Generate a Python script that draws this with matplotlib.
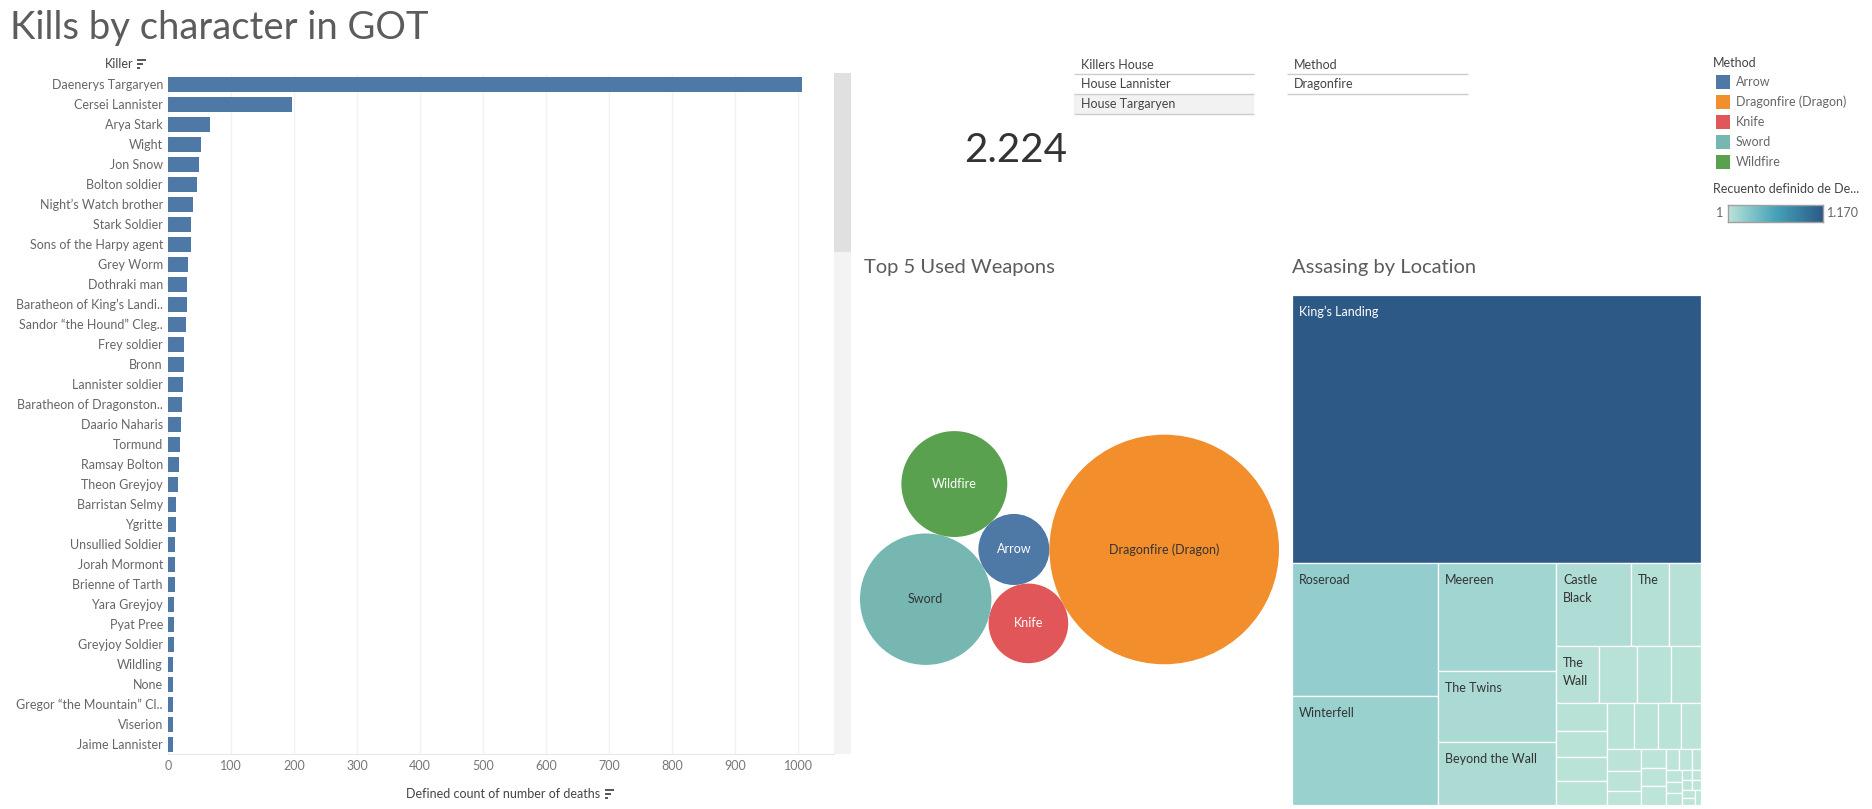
import numpy as np
import matplotlib
matplotlib.use('Agg')
import matplotlib.pyplot as plt
from matplotlib.patches import Rectangle, Circle
from matplotlib.lines import Line2D
from matplotlib.colors import LinearSegmentedColormap, Normalize, to_rgb

plt.rcParams['font.family'] = ['Lato', 'DejaVu Sans']

# ---------------- data ----------------
killers = ["Daenerys Targaryen", "Cersei Lannister", "Arya Stark", "Wight", "Jon Snow",
           "Bolton soldier", "Night’s Watch brother", "Stark Soldier", "Sons of the Harpy agent",
           "Grey Worm", "Dothraki man", "Baratheon of King’s Landi..", "Sandor “the Hound” Cleg..",
           "Frey soldier", "Bronn", "Lannister soldier", "Baratheon of Dragonston..",
           "Daario Naharis", "Tormund", "Ramsay Bolton", "Theon Greyjoy", "Barristan Selmy",
           "Ygritte", "Unsullied Soldier", "Jorah Mormont", "Brienne of Tarth", "Yara Greyjoy",
           "Pyat Pree", "Greyjoy Soldier", "Wildling", "None", "Gregor “the Mountain” Cl..",
           "Viserion", "Jaime Lannister"]
kills = [1006, 197, 67, 52, 49, 46, 40, 37, 37, 32, 30, 30, 29, 25, 25, 24, 22, 21, 19, 17,
         16, 13, 13, 11, 11, 11, 10, 10, 10, 8, 8, 8, 8, 8]
x_ticks = [0, 100, 200, 300, 400, 500, 600, 700, 800, 900, 1000]

weapons = ["Arrow", "Dragonfire (Dragon)", "Knife", "Sword", "Wildfire"]
weapon_kills = [90, 940, 113, 308, 200]
weapon_colors = ["#4e79a7", "#f28e2b", "#e15759", "#76b7b2", "#59a14f"]

locations = ["King’s Landing", "Roseroad", "Winterfell", "Meereen", "The Twins",
             "Beyond the Wall", "Castle Black", "The Narrow Sea", "Hardhome", "The Wall",
             "Dragonstone", "Riverrun", "Harrenhal", "Eastwatch", "Highgarden",
             "Craster’s Keep", "Castamere", "Qarth", "Yunkai", "Braavos", "Pyke",
             "Oldtown", "Dorne", "Lhazar", "Storm’s End", "Sunspear", "Vaes Dothrak",
             "The Eyrie", "Astapor", "Dreadfort", "Riverlands", "Deepwood Motte",
             "Dothraki Sea", "Moat Cailin", "Crownlands", "Stormlands", "Red Waste",
             "Shivering Sea", "Summer Sea", "Kingsroad"]
location_deaths = [1170, 206, 170, 136, 89, 80, 66, 34, 28, 26, 23, 21, 18, 15, 14, 13, 13,
                   13, 12, 11, 10, 8, 7, 5, 5, 5, 5, 3, 3, 2, 2, 2, 2, 1, 1, 1, 1, 1, 1, 1]
row_counts = [1, 2, 3, 3, 4, 4, 4, 3, 3, 3]

killers_house_items = ["House Lannister", "House Targaryen"]
method_filter_items = ["Dragonfire"]


def fmt(n):
    return f"{n:,}".replace(",", ".")


# ---------------- helpers ----------------
W, H = 1872, 809
fig = plt.figure(figsize=(W / 100, H / 100), dpi=100)
fig.patch.set_facecolor("white")
renderer = fig.canvas.get_renderer()


def fx(x):
    return x / W


def fy(y):
    return 1 - y / H


def px_axes(x0, y0, x1, y1):
    return fig.add_axes([x0 / W, 1 - y1 / H, (x1 - x0) / W, (y1 - y0) / H])


def ftext(x, y, s, **kw):
    return fig.text(fx(x), fy(y), s, **kw)


def frect(x0, y0, x1, y1, color):
    fig.add_artist(Rectangle((fx(x0), fy(y1)), (x1 - x0) / W, (y1 - y0) / H,
                             transform=fig.transFigure, facecolor=color, edgecolor="none"))


def fline(x0, y0, x1, y1, color, lw=1.0):
    fig.add_artist(Line2D([fx(x0), fx(x1)], [fy(y0), fy(y1)], transform=fig.transFigure,
                          color=color, lw=lw, solid_capstyle="butt"))


def text_w(s, fs):
    t = fig.text(0, 0, s, fontsize=fs)
    w = t.get_window_extent(renderer=renderer).width
    t.remove()
    return w


def sort_icon(x, y):
    for i, ln in enumerate([9, 6, 3]):
        fline(x, y - 4 + 4 * i, x + ln, y - 4 + 4 * i, "#555555", lw=1.4)


def lum(c):
    def f(u):
        return u / 12.92 if u <= 0.04045 else ((u + 0.055) / 1.055) ** 2.4
    r, g, b = to_rgb(c)
    return 0.2126 * f(r) + 0.7152 * f(g) + 0.0722 * f(b)


def label_color(c):
    return "white" if lum(c) < 0.33 else "#333333"


# ---------------- title ----------------
ftext(10, 28, "Kills by character in GOT", fontsize=27.5, color="#5c5c5c", va="center")

# ---------------- bar chart ----------------
ax = px_axes(168, 74, 834, 754)
yy = np.arange(len(killers))
ax.barh(yy, kills, height=0.75, color="#4e79a7", zorder=2)
ax.set_ylim(len(killers) - 0.5, -0.5)
ax.set_xlim(0, 1057)
ax.set_xticks(x_ticks)
ax.set_xticklabels([str(t) for t in x_ticks])
ax.set_yticks(yy)
ax.set_yticklabels(killers)
ax.tick_params(axis="y", length=0, pad=3.6, labelsize=9, labelcolor="#666666")
ax.tick_params(axis="x", length=0, pad=4, labelsize=9, labelcolor="#777777")
ax.grid(axis="x", color="#f2f2f2", lw=1.0, zorder=0)
ax.set_axisbelow(True)
for s in ["top", "right", "left"]:
    ax.spines[s].set_visible(False)
ax.spines["bottom"].set_color("#e8e8e8")

ftext(134, 64, "Killer", fontsize=9, color="#444444", ha="right", va="center")
sort_icon(137, 64)
ftext(503, 794, "Defined count of number of deaths", fontsize=9, color="#444444",
      ha="center", va="center")
xl_w = text_w("Defined count of number of deaths", 9)
sort_icon(503 + xl_w / 2 + 5, 794)

# scrollbar
frect(834, 73, 851, 754, "#f3f3f3")
frect(834, 73, 851, 252, "#e0e0e0")

# ---------------- KPI ----------------
total = sum(location_deaths)
ftext(1016, 151, fmt(total), fontsize=29, color="#333333", ha="center", va="center")

# ---------------- filter lists ----------------
def filter_list(x0, x1, header, items, highlight=None):
    ftext(x0 + 7, 65, header, fontsize=9, color="#444444", va="center")
    fline(x0, 73.5, x1, 73.5, "#cccccc")
    for i, it in enumerate(items):
        top = 73.5 + 20 * i
        if highlight is not None and i == highlight:
            frect(x0, top, x1, top + 20, "#f2f2f2")
        ftext(x0 + 7, top + 10.5, it, fontsize=9, color="#444444", va="center")
        fline(x0, top + 20, x1, top + 20, "#cccccc")


filter_list(1074, 1254, "Killers House", killers_house_items, highlight=1)
filter_list(1287, 1468, "Method", method_filter_items)

# ---------------- legends ----------------
ftext(1713, 63, "Method", fontsize=9, color="#444444", va="center")
for i, (wname, col) in enumerate(zip(weapons, weapon_colors)):
    cy = 82 + 20 * i
    frect(1716, cy - 7, 1730, cy + 7, col)
    ftext(1736, cy, wname, fontsize=9, color="#666666", va="center")

cmap = LinearSegmentedColormap.from_list("blueteal", [(0, "#bce4d8"), (0.5, "#45a2b9"),
                                                     (1, "#2c5985")])
vmin, vmax = min(location_deaths), max(location_deaths)
norm = Normalize(vmin, vmax)
ftext(1713, 189, "Recuento definido de De...", fontsize=9, color="#444444", va="center")
cax = px_axes(1728, 205, 1823, 222)
cax.imshow(np.linspace(0, 1, 256)[None, :], aspect="auto", cmap=cmap, extent=[0, 1, 0, 1])
cax.set_xticks([])
cax.set_yticks([])
for s in cax.spines.values():
    s.set_color("#a0a0a0")
    s.set_linewidth(1.0)
ftext(1723, 213, fmt(vmin), fontsize=9, color="#666666", ha="right", va="center")
ftext(1827, 213, fmt(vmax), fontsize=9, color="#666666", ha="left", va="center")

# ---------------- packed bubbles ----------------
ftext(864, 268, "Top 5 Used Weapons", fontsize=14.5, color="#5c5c5c", va="center")

rad = {w: np.sqrt(v) for w, v in zip(weapons, weapon_kills)}
pos = {}


def tangent(a, b, r, side):
    pa, pb = np.array(pos[a]), np.array(pos[b])
    d1, d2 = rad[a] + r, rad[b] + r
    v = pb - pa
    D = np.hypot(*v)
    aa = (d1 ** 2 - d2 ** 2 + D ** 2) / (2 * D)
    h = np.sqrt(max(d1 ** 2 - aa ** 2, 0))
    base = pa + aa * v / D
    perp = np.array([-v[1], v[0]]) / D
    return tuple(base + side * h * perp)


# layout rule: largest at centre, Arrow to its left, others wound clockwise round Arrow
pos["Dragonfire (Dragon)"] = (0.0, 0.0)
pos["Arrow"] = (-(rad["Dragonfire (Dragon)"] + rad["Arrow"]), 0.0)
pos["Knife"] = tangent("Arrow", "Dragonfire (Dragon)", rad["Knife"], -1)
pos["Sword"] = tangent("Arrow", "Knife", rad["Sword"], -1)
pos["Wildfire"] = tangent("Arrow", "Sword", rad["Wildfire"], -1)

bx0 = min(pos[w][0] - rad[w] for w in weapons)
bx1 = max(pos[w][0] + rad[w] for w in weapons)
by0 = min(pos[w][1] - rad[w] for w in weapons)
by1 = max(pos[w][1] + rad[w] for w in weapons)
AX0, AY0, AX1, AY1 = 860, 290, 1279, 806
bax = px_axes(AX0, AY0, AX1, AY1)
scale = (AX1 - AX0) / (bx1 - bx0)
cyc = (by0 + by1) / 2
half = (AY1 - AY0) / 2 / scale
bax.set_xlim(bx0, bx1)
bax.set_ylim(cyc - half, cyc + half)
bax.axis("off")
for wname, col in zip(weapons, weapon_colors):
    bax.add_patch(Circle(pos[wname], rad[wname], facecolor=col, edgecolor="none"))
    bax.text(pos[wname][0], pos[wname][1], wname, fontsize=9, color=label_color(col),
             ha="center", va="center")

# ---------------- treemap ----------------
ftext(1292, 268, "Assasing by Location", fontsize=14.5, color="#5c5c5c", va="center")


def worst(row, side):
    s = sum(row)
    return max(max(side * side * r / (s * s), s * s / (side * side * r)) for r in row)


def squarify(values, x, y, w, h, counts):
    tot = sum(values)
    areas = [v * w * h / tot for v in values]
    rects = []
    i, ci = 0, 0
    while i < len(areas):
        side = min(w, h)
        if ci < len(counts):
            k = counts[ci]
            ci += 1
        else:
            k = 1
            while k < len(areas) - i and worst(areas[i:i + k + 1], side) <= worst(areas[i:i + k], side):
                k += 1
        row = areas[i:i + k]
        s = sum(row)
        if w >= h:
            cw = s / h
            yy0 = y
            for a in row:
                ch = a / cw
                rects.append((x, yy0, cw, ch))
                yy0 += ch
            x += cw
            w -= cw
        else:
            rh = s / w
            xx0 = x
            for a in row:
                rw = a / rh
                rects.append((xx0, y, rw, rh))
                xx0 += rw
            y += rh
            h -= rh
        i += k
    return rects


TX0, TY0, TX1, TY1 = 1292, 295, 1701, 805
tw_, th_ = TX1 - TX0, TY1 - TY0
tax = px_axes(TX0, TY0, TX1, TY1)
tax.set_xlim(0, tw_)
tax.set_ylim(th_, 0)
tax.axis("off")
rects = squarify(location_deaths, 0, 0, tw_, th_, row_counts)
FS = 9
for name, val, (rx, ry, rw, rh) in zip(locations, location_deaths, rects):
    col = cmap(norm(val))
    tax.add_patch(Rectangle((rx, ry), rw, rh, facecolor=col, edgecolor="white", lw=0.9))
    avail = rw - 14
    words = name.split(" ")
    lines = []
    cur = ""
    for wd in words:
        trial = wd if not cur else cur + " " + wd
        if text_w(trial, FS) <= avail:
            cur = trial
        else:
            if cur:
                lines.append(cur)
            cur = wd
    if cur:
        lines.append(cur)
    shown = []
    for j, ln in enumerate(lines):
        cyl = 17 + 17.5 * j
        if text_w(ln, FS) > avail or cyl + 6 > rh:
            break
        shown.append((ln, cyl))
    for ln, cyl in shown:
        tax.text(rx + 7, ry + cyl, ln, fontsize=FS, color=label_color(col), ha="left",
                 va="center")

fig.savefig("out.png", dpi=100, facecolor="white")
